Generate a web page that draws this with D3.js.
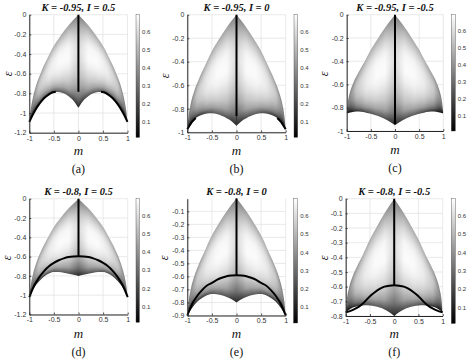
<!DOCTYPE html>
<html><head><meta charset="utf-8">
<script src="https://cdn.jsdelivr.net/npm/d3@7"></script>
<style>body{margin:0;background:#fff}svg{display:block}</style>
</head><body>
<svg id="chart" width="474" height="359"></svg>
<script>
// ---------------- data ----------------
const titles = ["K = -0.95, I = 0.5","K = -0.95, I = 0","K = -0.95, I = -0.5","K = -0.8, I = 0.5","K = -0.8, I = 0","K = -0.8, I = -0.5"];
const captions = ["(a)","(b)","(c)","(d)","(e)","(f)"];
const mTicks = [-1,-0.5,0,0.5,1];
const yTicks12 = [0,-0.2,-0.4,-0.6,-0.8,-1,-1.2];
const yTicks10 = [0,-0.2,-0.4,-0.6,-0.8,-1];
const yTicks09 = [-0.1,-0.2,-0.3,-0.4,-0.5,-0.6,-0.7,-0.8,-0.9];
const yTicks08 = [0,-0.1,-0.2,-0.3,-0.4,-0.5,-0.6,-0.7,-0.8];
const cbTicks = [0.1,0.2,0.3,0.4,0.5,0.6];
const cbDomain = [0.012,0.693];

// upper boundary (max energy) of each panel
const upperM = [-1,-0.975,-0.93,-0.86,-0.76,-0.64,-0.52,-0.37,-0.2,0,0.2,0.37,0.52,0.64,0.76,0.86,0.93,0.975,1];
const upperA = [-1.09,-0.98,-0.852,-0.718,-0.584,-0.454,-0.334,-0.219,-0.108,0,-0.108,-0.219,-0.334,-0.454,-0.584,-0.718,-0.852,-0.98,-1.09];
const upperB = [-0.975,-0.867,-0.758,-0.65,-0.542,-0.433,-0.325,-0.217,-0.108,0,-0.108,-0.217,-0.325,-0.433,-0.542,-0.65,-0.758,-0.867,-0.975];
const upperC = [-0.85,-0.754,-0.665,-0.582,-0.5,-0.412,-0.316,-0.215,-0.108,0,-0.108,-0.215,-0.316,-0.412,-0.5,-0.582,-0.665,-0.754,-0.85];
const upperD = [-1.02,-0.913,-0.794,-0.668,-0.542,-0.421,-0.309,-0.202,-0.1,0,-0.1,-0.202,-0.309,-0.421,-0.542,-0.668,-0.794,-0.913,-1.02];
const upperE = [-0.9,-0.8,-0.7,-0.6,-0.5,-0.4,-0.3,-0.2,-0.1,0,-0.1,-0.2,-0.3,-0.4,-0.5,-0.6,-0.7,-0.8,-0.9];
const upperF = [-0.775,-0.687,-0.607,-0.532,-0.458,-0.379,-0.291,-0.198,-0.1,0,-0.1,-0.198,-0.291,-0.379,-0.458,-0.532,-0.607,-0.687,-0.775];

// lower boundary (min energy) of each panel
const lowerM = [-1,-0.9,-0.8,-0.7,-0.6,-0.5,-0.4,-0.3,-0.2,-0.1,0,0.1,0.2,0.3,0.4,0.5,0.6,0.7,0.8,0.9,1];
const lowerA = [-1.09,-0.99,-0.91,-0.85,-0.81,-0.787,-0.785,-0.8,-0.83,-0.875,-0.947,-0.875,-0.83,-0.8,-0.785,-0.787,-0.81,-0.85,-0.91,-0.99,-1.09];
const lowerB = [-0.975,-0.91,-0.87,-0.85,-0.84,-0.838,-0.845,-0.86,-0.88,-0.905,-0.945,-0.905,-0.88,-0.86,-0.845,-0.838,-0.84,-0.85,-0.87,-0.91,-0.975];
const lowerC = [-0.85,-0.838,-0.833,-0.835,-0.842,-0.852,-0.865,-0.88,-0.9,-0.922,-0.95,-0.922,-0.9,-0.88,-0.865,-0.852,-0.842,-0.835,-0.833,-0.838,-0.85];
const lowerD = [-1.02,-0.92,-0.855,-0.805,-0.775,-0.76,-0.76,-0.767,-0.777,-0.788,-0.8,-0.788,-0.777,-0.767,-0.76,-0.76,-0.775,-0.805,-0.855,-0.92,-1.02];
const lowerE = [-0.9,-0.84,-0.795,-0.765,-0.745,-0.735,-0.737,-0.745,-0.758,-0.776,-0.8,-0.776,-0.758,-0.745,-0.737,-0.735,-0.745,-0.765,-0.795,-0.84,-0.9];
const lowerF = [-0.775,-0.75,-0.737,-0.73,-0.727,-0.728,-0.733,-0.742,-0.755,-0.774,-0.8,-0.774,-0.755,-0.742,-0.733,-0.728,-0.727,-0.73,-0.737,-0.75,-0.775];

// black transition curves
const domeD = [-1.02,-0.9,-0.815,-0.75,-0.7,-0.665,-0.638,-0.618,-0.605,-0.599,-0.597,-0.599,-0.605,-0.618,-0.638,-0.665,-0.7,-0.75,-0.815,-0.9,-1.02];
const domeE = [-0.9,-0.81,-0.75,-0.705,-0.67,-0.65,-0.627,-0.61,-0.598,-0.592,-0.59,-0.592,-0.598,-0.61,-0.627,-0.65,-0.67,-0.705,-0.75,-0.81,-0.9];
const domeF = [-0.775,-0.765,-0.75,-0.73,-0.7,-0.665,-0.638,-0.615,-0.6,-0.593,-0.59,-0.593,-0.6,-0.615,-0.638,-0.665,-0.7,-0.73,-0.75,-0.765,-0.775];
const edgeAmL = [-1,-0.9,-0.8,-0.7,-0.6,-0.5,-0.46];
const edgeAeL = [-1.09,-0.99,-0.91,-0.85,-0.81,-0.787,-0.784];
const edgeAmR = [0.46,0.5,0.6,0.7,0.8,0.9,1];
const edgeAeR = [-0.784,-0.787,-0.81,-0.85,-0.91,-0.99,-1.09];
const edgeBmL = [-1,-0.9,-0.83];
const edgeBeL = [-0.975,-0.91,-0.878];
const edgeBmR = [0.83,0.9,1];
const edgeBeR = [-0.878,-0.91,-0.975];
const vEnd = [-0.784,-0.862,-0.94,-0.597,-0.59,-0.59];

// shading (colour value) over m and relative height t between lower (0) and upper (1) boundary
const shadeM = [-1,-0.8,-0.6,-0.4,-0.2,0,0.2,0.4,0.6,0.8,1];
const shadeT = [0,0.1,0.2,0.3,0.4,0.5,0.6,0.7,0.8,0.9,1];
const shadeGrid = [
 [0.02,0.12,0.2,0.25,0.22,0.12,0.22,0.25,0.2,0.12,0.02],
 [0.05,0.3,0.42,0.46,0.44,0.3,0.44,0.46,0.42,0.3,0.05],
 [0.1,0.4,0.52,0.56,0.54,0.42,0.54,0.56,0.52,0.4,0.1],
 [0.15,0.46,0.58,0.62,0.6,0.5,0.6,0.62,0.58,0.46,0.15],
 [0.2,0.51,0.62,0.66,0.65,0.55,0.65,0.66,0.62,0.51,0.2],
 [0.24,0.53,0.64,0.68,0.68,0.58,0.68,0.68,0.64,0.53,0.24],
 [0.27,0.55,0.64,0.68,0.68,0.6,0.68,0.68,0.64,0.55,0.27],
 [0.3,0.55,0.63,0.67,0.67,0.58,0.67,0.67,0.63,0.55,0.3],
 [0.32,0.53,0.6,0.63,0.62,0.53,0.62,0.63,0.6,0.53,0.32],
 [0.33,0.48,0.55,0.56,0.54,0.45,0.54,0.56,0.55,0.48,0.33],
 [0.3,0.42,0.47,0.47,0.44,0.35,0.44,0.47,0.47,0.42,0.3]
];

// ---------------- layout ----------------
const panels = [
 {x0:29.3,x1:127.5,y0:14.7,y1:132.7,yDom:[-1.2,0],yTicks:yTicks12,up:upperA,lo:lowerA,cb:[136,3.6,14.7,137.4],ylab:[9,74],mY:152,capY:170,tY:10.8},
 {x0:187.3,x1:285.7,y0:14.7,y1:132.3,yDom:[-1,0],yTicks:yTicks10,up:upperB,lo:lowerB,cb:[294,3.7,14.7,137.3],ylab:[166,76],mY:152,capY:170,tY:10.8},
 {x0:346.7,x1:443.3,y0:14.7,y1:131,yDom:[-1,0],yTicks:yTicks10,up:upperC,lo:lowerC,cb:[451.3,4,14.7,131],ylab:[325,74],mY:151,capY:169,tY:10.8},
 {x0:29.3,x1:127.7,y0:198.7,y1:314.5,yDom:[-1.2,0],yTicks:yTicks12,up:upperD,lo:lowerD,cb:[136,3.4,198.7,322.3],ylab:[8,258],mY:335,capY:353,tY:194.5},
 {x0:187.3,x1:285.7,y0:198.7,y1:315.5,yDom:[-0.9,-0.003],yTicks:yTicks09,up:upperE,lo:lowerE,cb:[293.5,4.2,198.7,323],ylab:[165,258],mY:335,capY:353,tY:194.5},
 {x0:345.7,x1:442.7,y0:198.7,y1:316,yDom:[-0.8,0],yTicks:yTicks08,up:upperF,lo:lowerF,cb:[451.3,4,198.7,323.5],ylab:[325,258],mY:335,capY:353,tY:194.5}
];

const SERIF = "'Liberation Serif','Times New Roman',serif";
const SANS = "'Liberation Sans',Arial,sans-serif";

const svg = d3.select("#chart");
const defs = svg.append("defs");
const grad = defs.append("linearGradient").attr("id","cbg").attr("x1",0).attr("y1",1).attr("x2",0).attr("y2",0);
grad.append("stop").attr("offset","0%").attr("stop-color","#000");
grad.append("stop").attr("offset","100%").attr("stop-color","#fff");

const axisColor = "#262626";
const fmt = d => String(d);
const gray = d3.scaleLinear().domain(cbDomain).range([0,255]).clamp(true);

function pairs(ms, es, a, b){ return ms.map((m,i)=>[m,es[i]]).filter(p=>p[0]>=a-1e-9 && p[0]<=b+1e-9); }

panels.forEach((p,i)=>{
  const xs = d3.scaleLinear().domain([-1,1]).range([p.x0,p.x1]);
  const ys = d3.scaleLinear().domain(p.yDom).range([p.y1,p.y0]);
  const g = svg.append("g");
  const line = d3.line().x(d=>xs(d[0])).y(d=>ys(d[1])).curve(d3.curveMonotoneX);

  // grid
  g.append("g").selectAll("line").data(mTicks).join("line")
    .attr("x1",d=>xs(d)).attr("x2",d=>xs(d)).attr("y1",p.y0).attr("y2",p.y1)
    .attr("stroke","#e3e3e3").attr("stroke-width",0.8);
  g.append("g").selectAll("line").data(p.yTicks).join("line")
    .attr("x1",p.x0).attr("x2",p.x1).attr("y1",d=>ys(d)).attr("y2",d=>ys(d))
    .attr("stroke","#e3e3e3").attr("stroke-width",0.8);

  // shaded region (canvas image clipped by boundaries)
  const upS = d3.scaleLinear().domain(upperM).range(p.up);
  const loS = d3.scaleLinear().domain(lowerM).range(p.lo);
  const cw = Math.ceil(p.x1-p.x0), ch = Math.ceil(p.y1-p.y0);
  const cv = document.createElement("canvas"); cv.width = cw*2; cv.height = ch*2;
  const ctx = cv.getContext("2d");
  const img = ctx.createImageData(cv.width, cv.height);
  for(let py=0; py<cv.height; py++){
    for(let px=0; px<cv.width; px++){
      const m = Math.max(-1, Math.min(1, xs.invert(p.x0 + (px+0.5)/2)));
      const e = ys.invert(p.y0 + (py+0.5)/2);
      const u = upS(m), l = loS(m);
      let t = (u-l) > 1e-6 ? (e-l)/(u-l) : 0;
      t = Math.max(0, Math.min(1, t));
      let ci = d3.bisectRight(shadeM, m) - 1; ci = Math.max(0, Math.min(shadeM.length-2, ci));
      let ri = d3.bisectRight(shadeT, t) - 1; ri = Math.max(0, Math.min(shadeT.length-2, ri));
      const fm = (m - shadeM[ci])/(shadeM[ci+1]-shadeM[ci]);
      const ft = (t - shadeT[ri])/(shadeT[ri+1]-shadeT[ri]);
      const v0 = shadeGrid[ri][ci]*(1-fm) + shadeGrid[ri][ci+1]*fm;
      const v1 = shadeGrid[ri+1][ci]*(1-fm) + shadeGrid[ri+1][ci+1]*fm;
      const v = v0*(1-ft) + v1*ft;
      const c = Math.round(gray(v));
      const k = (py*cv.width + px)*4;
      img.data[k]=c; img.data[k+1]=c; img.data[k+2]=c; img.data[k+3]=255;
    }
  }
  ctx.putImageData(img,0,0);

  const upPath = line(pairs(upperM,p.up,-1,0)) + line(pairs(upperM,p.up,0,1)).replace(/^M/,"L")
     + `L${xs(1)},${p.y1+5}L${xs(-1)},${p.y1+5}Z`;
  const loPath = line(pairs(lowerM,p.lo,-1,0)) + line(pairs(lowerM,p.lo,0,1)).replace(/^M/,"L")
     + `L${xs(1)},${p.y0-5}L${xs(-1)},${p.y0-5}Z`;
  defs.append("clipPath").attr("id","cu"+i).append("path").attr("d",upPath);
  defs.append("clipPath").attr("id","cl"+i).append("path").attr("d",loPath);
  g.append("g").attr("clip-path",`url(#cu${i})`).append("g").attr("clip-path",`url(#cl${i})`)
    .append("image").attr("x",p.x0).attr("y",p.y0).attr("width",cw).attr("height",ch)
    .attr("preserveAspectRatio","none").attr("href",cv.toDataURL());

  // black lines
  const blk = g.append("g").attr("fill","none").attr("stroke","#000").attr("stroke-width",2);
  blk.append("line").attr("x1",xs(0)).attr("x2",xs(0)).attr("y1",ys(0)).attr("y2",ys(vEnd[i]));
  if(i===0){
    blk.append("path").attr("d",line(edgeAmL.map((m,j)=>[m,edgeAeL[j]])));
    blk.append("path").attr("d",line(edgeAmR.map((m,j)=>[m,edgeAeR[j]])));
  }
  if(i===1){
    blk.append("path").attr("d",line(edgeBmL.map((m,j)=>[m,edgeBeL[j]])));
    blk.append("path").attr("d",line(edgeBmR.map((m,j)=>[m,edgeBeR[j]])));
    g.append("line").attr("x1",xs(0)).attr("x2",xs(0)).attr("y1",ys(vEnd[i])).attr("y2",ys(-0.94))
      .attr("stroke","#333").attr("stroke-width",1);
  }
  const domes = [null,null,null,domeD,domeE,domeF];
  if(domes[i]) blk.append("path").attr("d",line(lowerM.map((m,j)=>[m,domes[i][j]])));

  // axes
  const ax = g.append("g").attr("transform",`translate(0,${p.y1})`)
    .call(d3.axisBottom(xs).tickValues(mTicks).tickFormat(fmt).tickSizeInner(-2).tickSizeOuter(0).tickPadding(3));
  const ay = g.append("g").attr("transform",`translate(${p.x0},0)`)
    .call(d3.axisLeft(ys).tickValues(p.yTicks).tickFormat(fmt).tickSizeInner(-2).tickSizeOuter(0).tickPadding(3));
  [ax,ay].forEach(a=>{
    a.attr("font-family",null).attr("font-size",null);
    a.select(".domain").attr("stroke",axisColor).attr("stroke-width",1);
    a.selectAll(".tick line").attr("stroke",axisColor).attr("stroke-width",0.8);
    a.selectAll("text").attr("fill","#333").style("font-family",SANS).style("font-size","7px");
  });

  // colorbar
  const [cx,cwid,cy0,cy1] = p.cb;
  const cbs = d3.scaleLinear().domain(cbDomain).range([cy1,cy0]);
  g.append("rect").attr("x",cx).attr("y",cy0).attr("width",cwid).attr("height",cy1-cy0)
    .attr("fill","url(#cbg)").attr("stroke","#444").attr("stroke-width",0.4);
  const cba = g.append("g").attr("transform",`translate(${cx+cwid},0)`)
    .call(d3.axisRight(cbs).tickValues(cbTicks).tickFormat(fmt).tickSizeInner(0).tickSizeOuter(0).tickPadding(2.5));
  cba.attr("font-family",null).attr("font-size",null);
  cba.select(".domain").remove();
  cba.selectAll("text").attr("fill","#333").style("font-family",SANS).style("font-size","6px");

  // texts
  const cxm = (p.x0+p.x1)/2;
  g.append("text").attr("x",cxm).attr("y",p.tY).attr("text-anchor","middle")
    .style("font-family",SERIF).style("font-weight","bold").style("font-style","italic")
    .style("font-size","10.5px").attr("fill","#111").text(titles[i]);
  g.append("text").attr("x",cxm).attr("y",p.mY).attr("text-anchor","middle").attr("dominant-baseline","middle")
    .style("font-family",SERIF).style("font-style","italic")
    .style("font-size","13px").attr("fill","#111").text("m");
  g.append("text").attr("transform",`translate(${p.ylab[0]},${p.ylab[1]}) rotate(-90)`).attr("text-anchor","middle").attr("dominant-baseline","middle")
    .style("font-family",SERIF).style("font-style","italic")
    .style("font-size","12px").attr("fill","#111").text("ε");
  g.append("text").attr("x",cxm).attr("y",p.capY).attr("text-anchor","middle").attr("dominant-baseline","middle")
    .style("font-family",SERIF)
    .style("font-size","12px").attr("fill","#111").text(captions[i]);
});
</script>
</body></html>
